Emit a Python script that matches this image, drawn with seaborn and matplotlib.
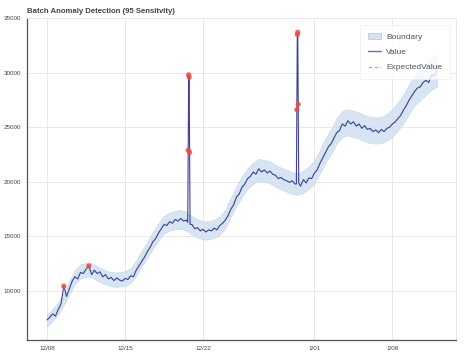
import numpy as np
import pandas as pd
import seaborn as sns
import matplotlib.pyplot as plt
from matplotlib.lines import Line2D
from matplotlib.patches import Patch
from matplotlib.ticker import FixedLocator, FuncFormatter, MultipleLocator
import matplotlib.dates as mdates

start = pd.Timestamp('2019-12-08')

# observed value, every 6 hours (one row per day)
value_6h = [
    7350, 7600, 7900, 7700,
    8300, 8800, 10450, 9500,
    10200, 10900, 11300, 11100,
    11700, 11600, 12000, 12300,
    11500, 11900, 11600, 11750,
    11300, 11500, 11100, 11250,
    10950, 11200, 11000, 10900,
    11150, 11050, 11400, 11300,
    11900, 12300, 12700, 13100,
    13600, 14000, 14500, 14800,
    15300, 15700, 16100, 16000,
    16350, 16200, 16550, 16400,
    16650, 16400, 16500, 16000,
    16100, 15700, 15800, 15500,
    15650, 15400, 15600, 15500,
    15750, 15600, 16000, 16200,
    16500, 16900, 17500, 17900,
    18600, 18900, 19500, 19800,
    20300, 20500, 20900, 20700,
    21200, 20900, 21100, 20800,
    21000, 20700, 20600, 20300,
    20400, 20200, 20100, 19950,
    20100, 19800, 19700, 19600,
    20200, 19900, 20350, 20300,
    20800, 21100, 21700, 22200,
    22700, 23200, 23500, 24000,
    24500, 24700, 25300, 25100,
    25600, 25300, 25500, 25100,
    25300, 24900, 25150, 24800,
    24900, 24600, 24750, 24500,
    24800, 24600, 24900, 25000,
    25300, 25500, 25800, 26100,
    26600, 27000, 27500, 27900,
    28300, 28600, 28700, 29100,
    29300, 29100, 29800, 29700,
    30200,
]

# hourly readings around the two big spikes
spike_hours = [303, 304, 305, 306, 307, 308, 537, 538, 539, 540, 541, 542]
spike_values = [16300, 22900, 29800, 29600, 22700, 16100,
                19800, 26600, 33500, 33700, 27100, 19900]

anomaly_hours = [36, 90, 304, 305, 306, 307, 538, 539, 540, 541]

# expected value and boundary half width, every 12 hours
expected_12h = [
    7300, 7800, 8400, 9300, 10300, 11300, 11800, 11900, 11900, 11600,
    11350, 11150, 11050, 11050, 11150, 11400, 12100, 13000, 13800, 14650,
    15400, 16100, 16350, 16500, 16550, 16400, 16000, 15750, 15550, 15550,
    15700, 16000, 16600, 17700, 18700, 19600, 20300, 20800, 21100, 21000,
    20850, 20550, 20300, 20100, 19900, 19800, 20000, 20400, 20900, 21900,
    22900, 23700, 24700, 25300, 25450, 25300, 25150, 24900, 24750, 24700,
    24750, 25000, 25400, 26000, 26700, 27600, 28400, 28900, 29400, 29900,
    30200,
]
halfwidth_12h = [
    550, 560, 580, 600, 620, 640, 650, 650, 650, 650,
    650, 650, 650, 660, 670, 690, 710, 730, 750, 770,
    790, 810, 830, 850, 860, 860, 850, 840, 830, 830,
    830, 840, 860, 880, 900, 930, 950, 970, 990, 1000,
    1000, 1000, 1000, 1000, 1000, 1000, 1010, 1030, 1050, 1080,
    1110, 1140, 1170, 1200, 1200, 1200, 1200, 1200, 1200, 1200,
    1210, 1230, 1260, 1290, 1320, 1350, 1380, 1410, 1440, 1470,
    1500,
]

base = pd.DataFrame({'hour': np.arange(len(value_6h)) * 6, 'Value': value_6h})
spikes = pd.DataFrame({'hour': spike_hours, 'Value': spike_values})
obs = pd.concat([spikes, base]).drop_duplicates('hour').sort_values('hour')
obs['time'] = start + pd.to_timedelta(obs['hour'], unit='h')
anom = obs[obs['hour'].isin(anomaly_hours)]

exp = pd.DataFrame({'hour': np.arange(len(expected_12h)) * 12,
                    'ExpectedValue': expected_12h, 'hw': halfwidth_12h})
exp['time'] = start + pd.to_timedelta(exp['hour'], unit='h')
exp['lower'] = exp['ExpectedValue'] - exp['hw']
exp['upper'] = exp['ExpectedValue'] + exp['hw']

sns.set_style('white')
plt.rcParams['font.family'] = ['Liberation Sans', 'DejaVu Sans']

band_c = '#d3e3f2'
value_c = '#3c40a0'
exp_c = '#a8c84a'

fig = plt.figure(figsize=(4.74, 3.55), dpi=100)
ax = fig.add_axes([0.057, 0.042, 0.905, 0.907])

ax.fill_between(exp['time'], exp['lower'], exp['upper'], color=band_c,
                alpha=0.9, edgecolor='#bcd3ea', linewidth=0.4, zorder=1)
sns.lineplot(data=exp, x='time', y='ExpectedValue', ax=ax, color=exp_c,
             lw=0.5, alpha=0.45, linestyle=(0, (4, 2)), zorder=2)
sns.lineplot(data=obs, x='time', y='Value', ax=ax, color=value_c, lw=0.8, zorder=3)
sns.scatterplot(data=anom, x='time', y='Value', ax=ax, color='#f04a3c',
                s=14, alpha=0.85, edgecolor='none', zorder=4)

ax.set_xlim(start - pd.Timedelta(days=1.8), start + pd.Timedelta(days=36.7))
ax.set_ylim(5500, 35000)
ax.set_xlabel('')
ax.set_ylabel('')

xt = pd.to_datetime(['2019-12-08', '2019-12-15', '2019-12-22', '2020-01-01', '2020-01-08'])
ax.xaxis.set_major_locator(FixedLocator(mdates.date2num(xt)))
ax.xaxis.set_major_formatter(FuncFormatter(
    lambda x, p: '{}/{:02d}'.format(mdates.num2date(x).month, mdates.num2date(x).day)))
ax.yaxis.set_major_locator(MultipleLocator(5000))
ax.yaxis.set_minor_locator(MultipleLocator(1000))
ax.yaxis.set_major_formatter(FuncFormatter(lambda v, p: '%d' % v if v >= 10000 else ''))

ax.tick_params(axis='both', which='major', labelsize=4.5, colors='#444444',
               length=4, width=0.8, direction='inout', pad=2)
ax.tick_params(axis='y', which='minor', length=2, width=0.6, colors='#444444',
               direction='out')
ax.grid(True, which='major', color='#e8e8e8', lw=0.7)

for s in ['left', 'bottom']:
    ax.spines[s].set_color('#555555')
    ax.spines[s].set_linewidth(0.9)
for s in ['top', 'right']:
    ax.spines[s].set_color('#e8e8e8')
    ax.spines[s].set_linewidth(0.7)

ax.set_title('Batch Anomaly Detection (95 Sensitvity)', loc='left',
             fontsize=5.6, fontweight='bold', color='#444444', pad=4)

handles = [Patch(facecolor=band_c, edgecolor='#a9c6e4', lw=0.5),
           Line2D([], [], color='#6a6ac8', lw=1),
           Line2D([], [], color=exp_c, lw=0.9, linestyle=(0, (3, 2)))]
leg = ax.legend(handles, ['Boundary', 'Value', 'ExpectedValue'], loc='upper right',
                fontsize=6, frameon=True, handlelength=1.6, labelspacing=0.9,
                borderpad=0.9, handletextpad=0.6, bbox_to_anchor=(0.995, 0.99))
leg.get_frame().set_edgecolor('#ececec')
leg.get_frame().set_linewidth(0.6)
for t in leg.get_texts():
    t.set_color('#555555')

fig.savefig('out.png', dpi=100)
